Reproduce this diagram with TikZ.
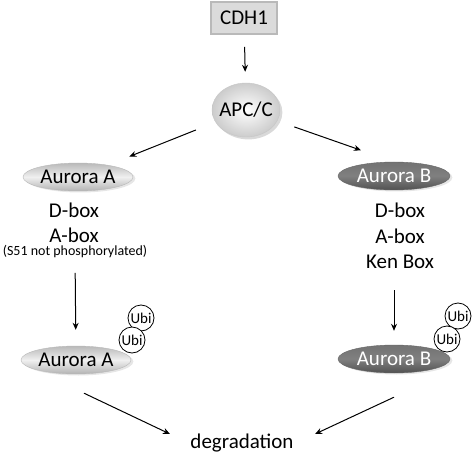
\documentclass[tikz,border=0pt]{standalone}
\usepackage{fontspec}
\setmainfont{Carlito}
\usetikzlibrary{shapes.geometric,arrows.meta,shadows}

\tikzset{
  arr/.style={->,line width=1pt},
  cdhbox/.style={draw=gray!55,line width=1.8pt,fill=gray!28,minimum width=66pt,minimum height=32pt,inner sep=0pt},
  apcball/.style={ellipse,draw=gray!45,inner color=white,outer color=gray!40,minimum width=68pt,minimum height=54pt,inner sep=0pt,inner xsep=-6pt,drop shadow={opacity=.3}},
  aurlight/.style={ellipse,draw=gray!55,top color=gray!55,bottom color=gray!60,middle color=gray!12,minimum width=110pt,minimum height=28pt,inner sep=0pt,inner xsep=-3pt,drop shadow={opacity=.2,shadow yshift=-1.5pt}},
  aurdark/.style={ellipse,draw=black!60,top color=black!55,bottom color=black!68,middle color=black!50,text=white,minimum width=112pt,minimum height=28pt,inner sep=0pt,inner xsep=-3pt,drop shadow={opacity=.2,shadow yshift=-1.5pt}},
  ubi/.style={circle,draw,line width=.8pt,fill=white,minimum size=26pt,inner sep=0pt,font=\fontsize{15}{17}\selectfont},
  note/.style={font=\fontsize{14}{16}\selectfont}
}

\begin{document}
\begin{tikzpicture}[x=1pt,y=-1pt,>={Stealth[length=7pt,width=6pt]},
  every node/.append style={font=\fontsize{21}{25}\selectfont}]
            \useasboundingbox (0,0) rectangle (473,454);
            \node[cdhbox] (cdh) at (244,18) {CDH1};
            \node[apcball] (apc) at (246,110) {APC/C};
            \node[aurlight] (aurA) at (78,177) {Aurora A};
            \node[aurdark] (aurB) at (394,176) {Aurora B};
            \node (dboxA) at (74,210) {D-box};
            \node (aboxA) at (74,235) {A-box};
            \node[note] (noteA) at (75,252) {(S51 not phosphorylated)};
            \node (dboxB) at (400,210) {D-box};
            \node (aboxB) at (400,236) {A-box};
            \node (kenB) at (400,262) {Ken Box};
            \node[aurlight] (aurA2) at (76,360) {Aurora A};
            \node[aurdark] (aurB2) at (394,359) {Aurora B};
            \node[ubi] (ubiA1) at (141,318) {Ubi};
            \node[ubi] (ubiA2) at (132,340) {Ubi};
            \node[ubi] (ubiB1) at (458,316) {Ubi};
            \node[ubi] (ubiB2) at (447,339) {Ubi};
            \node (degr) at (242,443) {degradation};
            \draw[arr,shorten <=12pt,shorten >=11pt] (cdh) -- (apc);
            \draw[arr,shorten <=21pt,shorten >=23pt] (apc) -- (aurA);
            \draw[arr,shorten <=18pt,shorten >=35pt] (apc) -- (aurB.north);
            \draw[arr,shorten <=11pt,shorten >=16pt] (noteA) -- (aurA2);
            \draw[arr,shorten <=18pt,shorten >=14pt] (aurB2 |- kenB.south) -- (aurB2.north);
            \draw[arr] ([shift={(8,19)}]aurA2.south) -- ([shift={(-17,-9)}]degr.west);
            \draw[arr] ([shift={(0,24)}]aurB2.south) -- ([shift={(18,-9)}]degr.east);
        \end{tikzpicture}
\end{document}
